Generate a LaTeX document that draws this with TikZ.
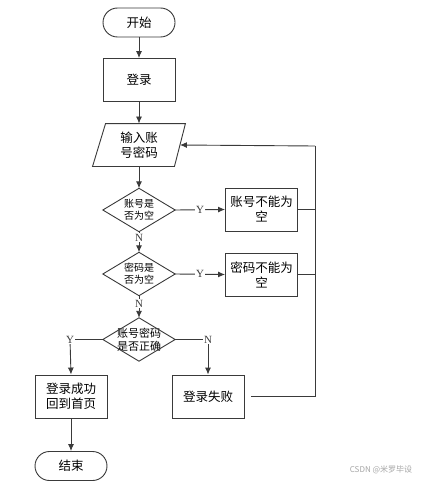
\documentclass[tikz,border=0pt]{standalone}
\usepackage{fontspec}
\newfontfamily\cjk{Noto Sans CJK SC}
\setmainfont{Liberation Serif}
\usetikzlibrary{arrows.meta,calc}
\definecolor{ln}{HTML}{3A3A3A}
\tikzset{
  base/.style={draw=ln, line width=0.9pt, inner sep=0pt, align=center, font=\cjk\fontsize{12.5}{15}\selectfont},
  term/.style={base, minimum width=72pt, minimum height=29pt, rounded corners=14.5pt},
  proc/.style={base, minimum width=72pt, minimum height=43pt},
  dec/.style={draw=none, inner sep=0pt, align=center, minimum width=72pt, minimum height=43pt, font=\cjk\fontsize{10}{12}\selectfont},
  conn/.style={draw=ln, line width=0.9pt},
  arr/.style={conn, -{Latex[length=7pt,width=6pt]}},
  yn/.style={fill=white, inner sep=1pt, font=\fontsize{11}{12}\selectfont, text=ln}
}
\begin{document}
\begin{tikzpicture}[x=1pt,y=-1pt]
\useasboundingbox[fill=white] (0,0) rectangle (430,484);
% nodes
\node[term] (start) at (139,22.5) {开始};
\node[proc] (login) at (139,80) {登录};
\node[base, draw=none, minimum width=92pt, minimum height=42pt] (input) at (139,145) {输入账\\号密码};
\draw[conn] ($(input.north west)+(13,0)$) -- (input.north east) -- ($(input.south east)+(-11,0)$) -- (input.south west) -- cycle;
\coordinate (inR) at ($(input.east)+(-5.5,0)$);
\node[dec] (d1) at (139,210) {账号是\\否为空};
\draw[conn] (d1.north) -- (d1.east) -- (d1.south) -- (d1.west) -- cycle;
\node[proc] (e1) at (261.5,209.5) {账号不能为\\空};
\node[dec] (d2) at (139,274) {密码是\\否为空};
\draw[conn] (d2.north) -- (d2.east) -- (d2.south) -- (d2.west) -- cycle;
\node[proc] (e2) at (261.5,274.5) {密码不能为\\空};
\node[dec, font=\cjk\fontsize{11}{13}\selectfont] (d3) at (139,339.5) {账号密码\\是否正确};
\draw[conn] (d3.north) -- (d3.east) -- (d3.south) -- (d3.west) -- cycle;
\node[proc] (ok) at (71,396.5) {登录成功\\回到首页};
\node[proc] (fail) at (208,396.5) {登录失败};
\node[term] (end) at (71,466) {结束};
\coordinate (rx) at (315,146);
\coordinate (ycorner) at (70,339.5);
\coordinate (ncorner) at (208,339.5);
% connectors
\draw[arr] (start) -- (login);
\draw[arr] (login) -- (input);
\draw[arr] (input) -- (d1);
\draw[arr] (d1.east) -- node[yn]{Y} (e1.west);
\draw[arr] (d1.south) -- node[yn, pos=0.3]{N} (d2.north);
\draw[arr] (d2.east) -- node[yn]{Y} (e2.west);
\draw[arr] (d2.south) -- node[yn, pos=0.35]{N} (d3.north);
\draw[conn] (d3.west) -- (ycorner);
\draw[arr] (ycorner) -- (ok.north);
\node[yn] at (ycorner) {Y};
\draw[conn] (d3.east) -- (ncorner);
\draw[arr] (ncorner) -- (fail.north);
\node[yn] at (ncorner) {N};
\draw[arr] (ok) -- (end);
\draw[conn] ($(fail.east)+(7,0)$) -- (fail.east -| rx) -- (rx);
\draw[conn] (e1.east) -- (e1.east -| rx);
\draw[conn] (e2.east) -- (e2.east -| rx);
\draw[arr] (rx) -- (inR);
% watermark
\node[font=\cjk\fontsize{8}{9}\selectfont, text=gray!70] (wm) at (381,470) {CSDN @米罗毕设};
\end{tikzpicture}
\end{document}
